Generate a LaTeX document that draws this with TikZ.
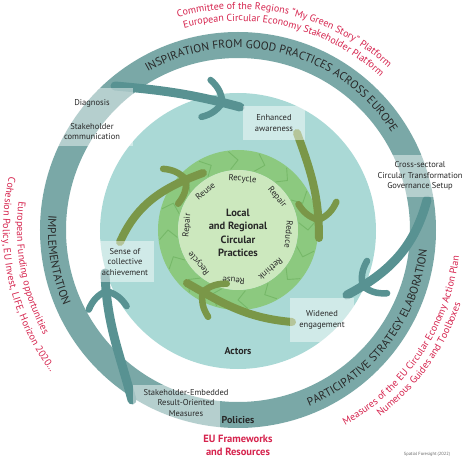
\documentclass[tikz,border=0pt]{standalone}
\usepackage{fontspec}
\setmainfont{PT Sans}
\usetikzlibrary{decorations.text, decorations.markings}

\definecolor{ringteal}{RGB}{122,168,167}
\definecolor{arrowteal}{RGB}{88,146,146}
\definecolor{diskteal}{RGB}{170,217,214}
\definecolor{ringgreen}{RGB}{140,201,127}
\definecolor{chevgreen}{RGB}{118,184,104}
\definecolor{coregreen}{RGB}{204,232,190}
\definecolor{olive}{RGB}{122,151,72}
\definecolor{eured}{RGB}{214,36,78}
\definecolor{labelgray}{RGB}{40,40,40}

\newcommand\redfmt{\fontsize{10}{10}\selectfont\color{eured}}
\newcommand\bandfmt{\fontsize{11.5}{12}\selectfont\color{labelgray}}

\tikzset{
  lbl/.style={text=labelgray, align=center, font=\fontsize{8.5}{10.5}\selectfont, inner sep=0pt},
  lightbox/.style={lbl, fill=white, fill opacity=0.45, text opacity=1},
  boldlbl/.style={text=labelgray, align=center, inner sep=0pt, font=\bfseries\fontsize{10}{12.5}\selectfont},
  ringword/.style={text=labelgray, font=\fontsize{8.8}{9}\selectfont, inner sep=0pt},
  barbs/.style={postaction={decorate}, decoration={markings, mark=at position -18pt with {
      \draw[#1, line width=6.5pt, line cap=round] (0,0) to[bend right=20] (-17pt,19pt);
      \draw[#1, line width=6.5pt, line cap=round] (0,0) to[bend left=20] (-17pt,-19pt);}}},
  tealflow/.style={draw=arrowteal, line width=9pt, line cap=round, barbs=arrowteal},
  oliveflow/.style={draw=olive, line width=8pt, line cap=round, barbs=olive},
  arctext/.style={decorate, decoration={text along path, text align=center, text={#1}}}
}

\begin{document}
\begin{tikzpicture}[x=1pt, y=1pt]
  \useasboundingbox (-238,-230) rectangle (236,230);
  \fill[white] (-238,-230) rectangle (236,230);

  % outer band and discs
  \draw[ringteal, line width=26pt] (0,0) circle[radius=185];
  \fill[diskteal] (0,-1) circle[radius=138];
  \draw[ringgreen, line width=20pt] (0,0) circle[radius=70];
  \foreach \a in {0,22.5,...,337.5}
    \draw[chevgreen, line width=0.9pt] (\a+7:61) -- (\a:70) -- (\a+7:79);
  \fill[coregreen] (0,0) circle[radius=60];

  % words round the core
  \foreach \a/\w [count=\i] in {85/Recycle, 40/Repair, -5/Reduce, -50/Rethink,
      -95/Reuse, -140/Recycle, 175/Repair, 130/Reuse}
    \node[ringword, rotate=\a-90] (word\i) at (\a:51) {\w};
  \node[boldlbl, font=\bfseries\fontsize{10.5}{13.5}\selectfont] (core) at (0,-3)
    {Local\\and Regional\\Circular\\Practices};

  % ends of the flows
  \coordinate (a1s) at (-123,144);
  \coordinate (a1t) at (2,123);
  \coordinate (a2s) at (189,30);
  \coordinate (a2t) at (109,-65);
  \coordinate (a3s) at (-106,-170);
  \coordinate (a3t) at (-133,-43);
  \coordinate (g1s) at (59,97);
  \coordinate (g1t) at (81,-8);
  \coordinate (g2s) at (54,-92);
  \coordinate (g2t) at (-51,-53);
  \coordinate (g3s) at (-118,-12);
  \coordinate (g3t) at (-35,57);

  \draw[tealflow] (a1s) to[out=-5, in=165] (a1t);
  \draw[tealflow] (a2s) to[out=-105, in=28] (a2t);
  \draw[tealflow] (a3s) to[out=105, in=-88] (a3t);
  \draw[oliveflow] (g1s) to[out=-70, in=90] (g1t);
  \draw[oliveflow] (g2s) to[out=175, in=-30] (g2t);
  \draw[oliveflow] (g3s) to[out=66, in=200] (g3t);

  % labels
  \node[lightbox, minimum width=62pt, minimum height=34pt] (enh) at (36,107) {Enhanced\\awareness};
  \node[lightbox, minimum width=94pt, minimum height=42pt] (cross) at (182,54)
    {Cross-sectoral\\Circular Transformation\\Governance Setup};
  \node[lightbox, minimum width=64pt, minimum height=44pt] (wid) at (84,-90) {Widened\\engagement};
  \node[lightbox, minimum width=58pt, minimum height=41pt] (sense) at (-113,-32)
    {Sense of\\collective\\achievement};
  \node[lightbox, minimum width=80pt, minimum height=58pt] (diagbox) at (-145,113) {};
  \node[lbl] (diag) at (-146,127) {Diagnosis};
  \node[lbl] (comm) at (-146,98.5) {Stakeholder\\communication};
  \node[lightbox, minimum width=87pt, minimum height=45pt] (stakebox) at (-61.5,-177.5) {};
  \node[lbl] (stake) at (-52,-173) {Stakeholder-Embedded\\Result-Oriented\\Measures};
  \node[boldlbl] (actors) at (0,-121) {Actors};
  \node[boldlbl] (policies) at (0,-190) {Policies};
  \node[boldlbl, text=eured, font=\bfseries\fontsize{10.5}{12.5}\selectfont] (eu) at (0,-215.5)
    {EU Frameworks\\and Resources};
  \node[lbl, text=black!60, font=\fontsize{4.5}{5}\selectfont] (credit) at (189,-224)
    {Spatial Foresight (2022)};

  % band titles
  \path[arctext={|\bandfmt|INSPIRATION FROM GOOD PRACTICES ACROSS EUROPE}]
    (136:182) arc[start angle=136, end angle=16, radius=182];
  \path[arctext={|\bandfmt|PARTICIPATIVE STRATEGY ELABORATION}]
    (-87:190) arc[start angle=-87, end angle=13, radius=190];
  \path[arctext={|\bandfmt|IMPLEMENTATION}]
    (160:190) arc[start angle=160, end angle=219, radius=190];

  % red outer notes
  \path[arctext={|\redfmt|Committee of the Regions “My Green Story” Platform}]
    (126.5:221) arc[start angle=126.5, end angle=26.5, radius=221];
  \path[arctext={|\redfmt|European Circular Economy Stakeholder Platform}]
    (126:209) arc[start angle=126, end angle=26, radius=209];
  \path[arctext={|\redfmt|European Funding opportunities}]
    (160:221) arc[start angle=160, end angle=221, radius=221];
  \path[arctext={|\redfmt|Cohesion Policy, EU Invest, LIFE, Horizon 2020...}]
    (154:235) arc[start angle=154, end angle=230, radius=235];
  \path[arctext={|\redfmt|Measures of the EU Circular Economy Action Plan}]
    (-76:222.5) arc[start angle=-76, end angle=8, radius=222.5];
  \path[arctext={|\redfmt|Numerous Guides and Toolboxes}]
    (-75.5:234.5) arc[start angle=-75.5, end angle=4.5, radius=234.5];
\end{tikzpicture}
\end{document}
